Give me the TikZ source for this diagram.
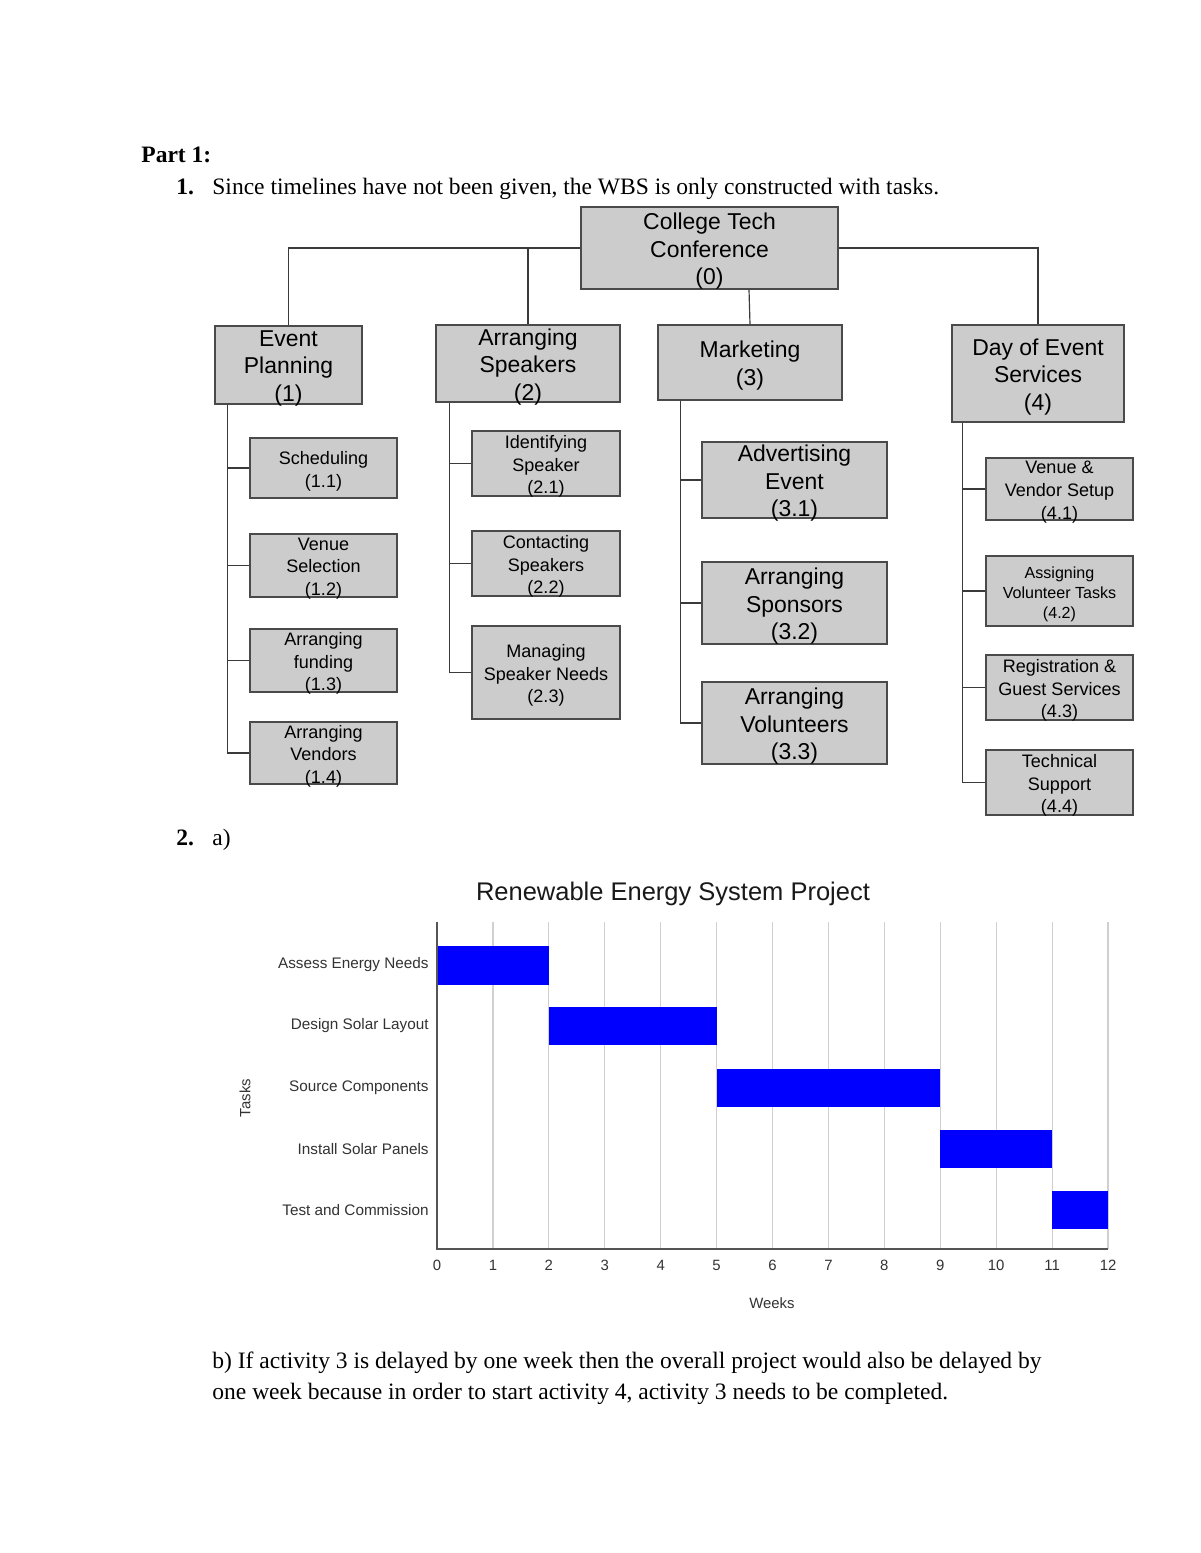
\documentclass[tikz,border=0pt]{standalone}
\usepackage{fontspec}
\setmainfont{Liberation Serif}
\newfontfamily\arialf{Liberation Sans}
\usetikzlibrary{fit,calc}
\definecolor{boxfill}{HTML}{CCCCCC}
\definecolor{boxline}{HTML}{4A4A4A}
\definecolor{connline}{HTML}{3A3A3A}
\definecolor{gridc}{HTML}{D0D0D0}
\definecolor{axisc}{HTML}{555555}
\definecolor{chtext}{HTML}{333333}
\definecolor{barblue}{HTML}{0000FF}
\newcommand\wbs[7]{%
  \node[box, fit={(#2,#3) (#4,#5)}] (#1) {};
  \node[#6, yshift=-1.6pt] (#1t) at (#1.center) {#7};}
\begin{document}
\begin{tikzpicture}[x=0.51pt,y=-0.51pt,
  box/.style={draw=boxline, fill=boxfill, line width=0.75pt, inner sep=0pt},
  big/.style={align=center, inner sep=0pt, text=black, font={\arialf\fontsize{11.7}{14}\selectfont}},
  small/.style={align=center, inner sep=0pt, text=black, font={\arialf\fontsize{9.2}{11.5}\selectfont}},
  tiny/.style={align=center, inner sep=0pt, text=black, font={\arialf\fontsize{8.2}{10.3}\selectfont}},
  conn/.style={draw=connline, line width=0.6pt},
  body/.style={inner sep=0pt, anchor=base west, font={\fontsize{12}{14}\selectfont}},
  tasklbl/.style={inner sep=0pt, anchor=east, text=chtext, font={\arialf\fontsize{7.8}{9}\selectfont}},
  ticklbl/.style={inner sep=0pt, text=chtext, font={\arialf\fontsize{7.6}{9}\selectfont}},
  bar/.style={fill=barblue}
]
\useasboundingbox (0,0) rectangle (1200,1553);
\fill[white] (0,0) rectangle (1200,1553);

% ---------- body text ----------
\node[body] (part) at (141,163) {\textbf{Part 1:}};
\node[body] (n1) at (176,194) {\textbf{1.}};
\node[body] (t1) at (212,194) {Since timelines have not been given, the WBS is only constructed with tasks.};
\node[body] (n2) at (176,845) {\textbf{2.}};
\node[body] (t2) at (212,845) {a)};
\node[body] (b1l) at (212,1368) {b) If activity 3 is delayed by one week then the overall project would also be delayed by};
\node[body] (b2l) at (212,1399) {one week because in order to start activity 4, activity 3 needs to be completed.};

% ---------- WBS ----------
\wbs{root}{581}{207}{838}{289}{big}{College Tech\\Conference\\(0)}
\wbs{b1}{215}{326}{362}{404}{big}{Event\\Planning\\(1)}
\wbs{b2}{436}{325}{620}{402}{big}{Arranging\\Speakers\\(2)}
\wbs{b3}{658}{325}{842}{400}{big}{Marketing\\(3)}
\wbs{b4}{952}{325}{1124}{422}{big}{Day of Event\\Services\\(4)}

\wbs{b11}{250}{438}{397}{498}{small}{Scheduling\\(1.1)}
\wbs{b12}{250}{534}{397}{597}{small}{Venue\\Selection\\(1.2)}
\wbs{b13}{250}{629}{397}{692}{small}{Arranging\\funding\\(1.3)}
\wbs{b14}{250}{722}{397}{784}{small}{Arranging\\Vendors\\(1.4)}

\wbs{b21}{472}{431}{620}{496}{small}{Identifying\\Speaker\\(2.1)}
\wbs{b22}{472}{531}{620}{596}{small}{Contacting\\Speakers\\(2.2)}
\wbs{b23}{472}{626}{620}{719}{small}{Managing\\Speaker Needs\\(2.3)}

\wbs{b31}{702}{442}{887}{518}{big}{Advertising\\Event\\(3.1)}
\wbs{b32}{702}{562}{887}{644}{big}{Arranging\\Sponsors\\(3.2)}
\wbs{b33}{702}{682}{887}{764}{big}{Arranging\\Volunteers\\(3.3)}

\wbs{b41}{986}{458}{1133}{520}{small}{Venue \&\\Vendor Setup\\(4.1)}
\wbs{b42}{986}{556}{1133}{626}{tiny}{Assigning\\Volunteer Tasks\\(4.2)}
\wbs{b43}{986}{655}{1133}{720}{small}{Registration \&\\Guest Services\\(4.3)}
\wbs{b44}{986}{750}{1133}{815}{small}{Technical\\Support\\(4.4)}

% top-level connectors
\draw[conn] (root.west) -| (b1.north);
\draw[conn] (b2.north) -- (b2.north |- root.west);
\draw[conn] ($(root.south)+(39.5,0)$) -- (b3.north);
\draw[conn] (root.east) -| (b4.north);

% spines
\coordinate (s1) at ($(b1.south west)+(13,0)$);
\coordinate (s2) at ($(b2.south west)+(14,0)$);
\coordinate (s3) at ($(b3.south west)+(23,0)$);
\coordinate (s4) at ($(b4.south west)+(11,0)$);
\draw[conn] (s1) |- (b14.west);
\foreach \n in {b11,b12,b13} \draw[conn] (\n.west) -- (\n.west -| s1);
\draw[conn] (s2) |- (b23.west);
\foreach \n in {b21,b22} \draw[conn] (\n.west) -- (\n.west -| s2);
\draw[conn] (s3) |- (b33.west);
\foreach \n in {b31,b32} \draw[conn] (\n.west) -- (\n.west -| s3);
\draw[conn] (s4) |- (b44.west);
\foreach \n in {b41,b42,b43} \draw[conn] (\n.west) -- (\n.west -| s4);

% ---------- Gantt chart ----------
\node[inner sep=0pt, text=black!90, font={\arialf\fontsize{13}{15}\selectfont}] (title) at (673,894) {Renewable Energy System Project};
\foreach \i in {1,...,12}
  \draw[gridc, line width=0.6pt] ({437+55.92*\i},922) -- ({437+55.92*\i},1249);
\fill[bar] (437,946) rectangle ({437+55.92*2},985);
\fill[bar] ({437+55.92*2},1007) rectangle ({437+55.92*5},1045);
\fill[bar] ({437+55.92*5},1069) rectangle ({437+55.92*9},1107);
\fill[bar] ({437+55.92*9},1130) rectangle ({437+55.92*11},1168);
\fill[bar] ({437+55.92*11},1191) rectangle ({437+55.92*12},1229);
\coordinate (ytop) at (437,922);
\coordinate (orig) at (437,1249);
\coordinate (xend) at (1108,1249);
\draw[axisc, line width=0.9pt] (ytop) -- (orig) -- (xend);
\foreach \i in {0,...,12}
  \node[ticklbl] (tick\i) at ({437+55.92*\i},1265) {\i};
\node[tasklbl] (task1) at (429,965) {Assess Energy Needs};
\node[tasklbl] (task2) at (429,1026) {Design Solar Layout};
\node[tasklbl] (task3) at (429,1088) {Source Components};
\node[tasklbl] (task4) at (429,1149) {Install Solar Panels};
\node[tasklbl] (task5) at (429,1210) {Test and Commission};
\node[ticklbl, rotate=90] (ylab) at (245,1098) {Tasks};
\node[ticklbl] (xlab) at (772,1303) {Weeks};
\end{tikzpicture}
\end{document}
